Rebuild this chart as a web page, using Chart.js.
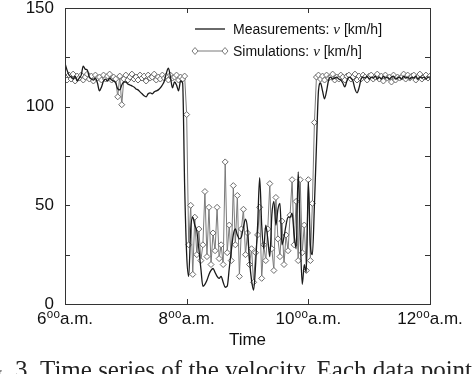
<!DOCTYPE html>
<html><head><meta charset="utf-8">
<script src="https://cdn.jsdelivr.net/npm/chart.js@4/dist/chart.umd.min.js"></script>
<style>html,body{margin:0;padding:0;background:#fff}#wrap{width:474px;height:374px;position:relative}</style>
</head><body><div id="wrap"><canvas id="c" width="474" height="374"></canvas></div>
<script>
// sampling grid: minutes after 6:00 a.m., every 2 minutes
const timeMinutes = Array.from({length: 181}, (_, i) => i * 2);

const measuredSpeed = [
  122, 118.5, 116, 115, 114, 115.5, 113, 114.5, 116, 120.5,
  119, 118.5, 115, 114, 113.5, 114.5, 112, 108, 110, 113,
  114, 113, 114.5, 113.5, 113, 112, 109, 108.5, 111, 112.5,
  112.5, 111.5, 111, 110.5, 110, 109, 108.5, 107.5, 106.5, 105.5,
  105, 106.5, 107, 106.5, 107.5, 108, 108.5, 109.5, 111, 113,
  117, 119.5, 115, 109.5, 112.5, 111, 108, 113, 112, 60,
  25, 14, 38, 44, 40, 37, 28, 18, 9, 10,
  12, 15, 17, 18, 16, 14, 13, 14, 11, 8.5,
  9, 18, 27, 35, 38, 35, 33, 34, 39, 43,
  38, 22, 12, 7, 20, 40, 64, 40, 28, 40,
  33, 24, 45, 52, 40, 48, 51, 30, 34, 40,
  44, 44, 46, 35, 28, 67, 35, 10, 20, 16,
  62, 30, 25, 50, 80, 108, 112, 108, 104, 108,
  113.5, 115, 114, 114.5, 115, 114, 113.5, 112, 110, 113,
  115, 114.5, 113, 109, 107, 109.5, 114, 115, 114.5, 115.5,
  114, 115, 114.5, 115.5, 114, 115, 114, 115.5, 114.5, 115,
  114, 115, 115.5, 114, 114.5, 115, 114, 115.5, 114.5, 115,
  114, 115, 114.5, 115.5, 114, 115, 114.5, 115, 114, 115,
  115
];

const simulatedSpeed = [
  115, 113.5, 116, 114, 116.5, 113, 115.5, 114.5, 116, 113.5,
  115, 116.5, 114, 115.5, 113, 116, 114.5, 115, 113.5, 116,
  114, 115.5, 116.5, 113.5, 115, 114, 105, 115.5, 101, 114,
  116, 113.5, 115, 116.5, 114, 115, 113.5, 116, 114.5, 115.5,
  113, 116, 114.5, 115, 116.5, 113.5, 115, 114, 116, 114.5,
  115.5, 113.5, 116, 114.5, 115, 116, 113.5, 115, 114, 115.5,
  96, 30, 50, 15, 44, 25, 38, 22, 30, 57,
  24, 49, 20, 36, 27, 49, 23, 30, 20, 72,
  26, 40, 22, 60, 30, 55, 14, 38, 48, 25,
  36, 20, 28, 11, 26, 35, 49, 13, 30, 22,
  38, 61, 28, 17, 54, 33, 24, 42, 20, 35,
  27, 45, 63, 30, 52, 22, 63, 26, 40, 17,
  63, 22, 51, 92, 115, 116, 114, 115.5, 113.5, 116,
  114.5, 115, 116.5, 113.5, 115, 114, 116, 115, 113.5, 115.5,
  116, 114, 115, 116.5, 113.5, 115.5, 114, 116, 115, 113.5,
  115.5, 116, 114, 115, 116.5, 114, 115.5, 113, 116, 114.5,
  115, 112.5, 116, 113.5, 115, 114.5, 115, 116.5, 114, 116,
  114.5, 115.5, 116, 113.5, 115, 116.5, 114, 115, 116, 114.5,
  115.5
];

const xTickLabels = ['6\u2070\u2070a.m.', '8\u2070\u2070a.m.', '10\u2070\u2070a.m.', '12\u2070\u2070a.m.'];
const seriesNames = ['Measurements: ', 'Simulations: '];
const legendUnit = ' [km/h]';
const legendSymbol = 'v';
const xTitle = 'Time';
const captionLead = 'FIG. 3. ';
const captionBody = 'Time series of the velocity. Each data point';

const SANS = '"Liberation Sans", Arial, "DejaVu Sans", sans-serif';
const SERIF = '"Liberation Serif", "Times New Roman", serif';

const framePlugin = {
  id: 'frame',
  afterDraw(chart) {
    const ctx = chart.ctx, a = chart.chartArea;
    const xs = chart.scales.x, ys = chart.scales.y;
    ctx.save();
    ctx.strokeStyle = '#333';
    ctx.lineWidth = 1;
    ctx.strokeRect(Math.round(a.left) + 0.5, Math.round(a.top) + 0.5,
      Math.round(a.right - a.left), Math.round(a.bottom - a.top));
    // inward ticks
    ctx.beginPath();
    [120, 240].forEach(v => {
      const px = Math.round(xs.getPixelForValue(v)) + 0.5;
      ctx.moveTo(px, a.bottom); ctx.lineTo(px, a.bottom - 5);
      ctx.moveTo(px, a.top); ctx.lineTo(px, a.top + 5);
    });
    [25, 50, 75, 100, 125].forEach(v => {
      const py = Math.round(ys.getPixelForValue(v)) + 0.5;
      ctx.moveTo(a.left, py); ctx.lineTo(a.left + 5, py);
      ctx.moveTo(a.right, py); ctx.lineTo(a.right - 5, py);
    });
    ctx.stroke();

    // legend
    const lx0 = 195, lx1 = 225, tx = 233;
    const rows = [29, 51];
    ctx.lineWidth = 1.3; ctx.strokeStyle = '#1a1a1a';
    ctx.beginPath(); ctx.moveTo(lx0, rows[0]); ctx.lineTo(lx1, rows[0]); ctx.stroke();
    ctx.lineWidth = 1; ctx.strokeStyle = '#7a7a7a';
    ctx.beginPath(); ctx.moveTo(lx0, rows[1]); ctx.lineTo(lx1, rows[1]); ctx.stroke();
    [lx0, lx1].forEach(x => {
      ctx.beginPath();
      ctx.moveTo(x, rows[1] - 3.5); ctx.lineTo(x + 3, rows[1]);
      ctx.lineTo(x, rows[1] + 3.5); ctx.lineTo(x - 3, rows[1]); ctx.closePath();
      ctx.fillStyle = '#fff'; ctx.fill(); ctx.stroke();
    });
    ctx.fillStyle = '#111';
    ctx.textBaseline = 'middle';
    ctx.textAlign = 'left';
    seriesNames.forEach((name, i) => {
      let x = tx;
      ctx.font = '14px ' + SANS;
      ctx.fillText(name, x, rows[i] + 1);
      x += ctx.measureText(name).width;
      ctx.font = 'italic 15px ' + SERIF;
      ctx.fillText(legendSymbol, x, rows[i] + 1);
      x += ctx.measureText(legendSymbol).width;
      ctx.font = '14px ' + SANS;
      ctx.fillText(legendUnit, x, rows[i] + 1);
    });

    // caption (cut by the image edges)
    ctx.font = '25px ' + SERIF;
    ctx.fillStyle = '#222';
    ctx.textBaseline = 'alphabetic';
    const pre = ctx.measureText(captionLead).width;
    ctx.fillText(captionLead + captionBody, 40 - pre, 378);
    ctx.restore();
  }
};

new Chart(document.getElementById('c'), {
  type: 'line',
  data: {
    datasets: [
      {
        label: seriesNames[0] + legendSymbol + legendUnit,
        data: timeMinutes.map((t, i) => ({x: t, y: measuredSpeed[i]})),
        borderColor: '#1a1a1a',
        borderWidth: 1.3,
        pointRadius: 0,
        cubicInterpolationMode: 'monotone',
        order: 1
      },
      {
        label: seriesNames[1] + legendSymbol + legendUnit,
        data: timeMinutes.map((t, i) => ({x: t, y: simulatedSpeed[i]})),
        borderColor: '#7a7a7a',
        borderWidth: 1,
        pointStyle: 'rectRot',
        pointRadius: 3,
        pointBorderWidth: 1,
        pointBorderColor: '#6a6a6a',
        pointBackgroundColor: '#fff',
        tension: 0,
        order: 2
      }
    ]
  },
  options: {
    responsive: false,
    devicePixelRatio: 1,
    animation: false,
    layout: {padding: {top: 8, right: 44, left: 0, bottom: 0}},
    plugins: {legend: {display: false}, tooltip: {enabled: false}},
    scales: {
      x: {
        type: 'linear', min: 0, max: 360,
        afterFit(s) { s.height = 70; s.paddingLeft = 0; s.paddingRight = 0; },
        grid: {display: false, drawTicks: false},
        border: {display: false},
        ticks: {
          stepSize: 120, autoSkip: false, maxRotation: 0, padding: 5,
          color: '#111', font: {family: SANS, size: 17},
          callback: v => xTickLabels[v / 120]
        },
        title: {display: true, text: xTitle, color: '#111',
          font: {family: SANS, size: 17}, padding: {top: 0, bottom: 23}}
      },
      y: {
        min: 0, max: 150,
        afterFit(s) { s.width = 65; s.paddingTop = 0; s.paddingBottom = 0; },
        grid: {display: false, drawTicks: false},
        border: {display: false},
        ticks: {stepSize: 50, padding: 11, color: '#111', font: {family: SANS, size: 17}}
      }
    }
  },
  plugins: [framePlugin]
});
</script>
</body></html>
